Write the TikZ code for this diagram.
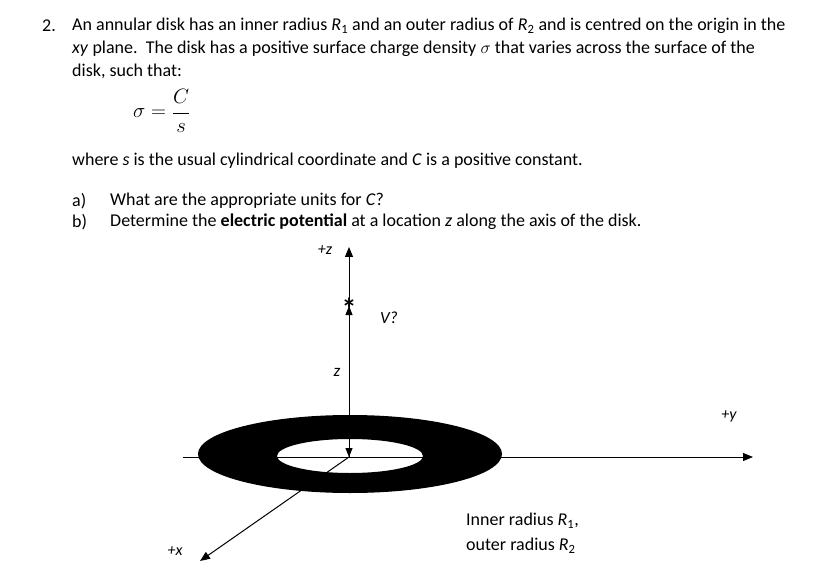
\documentclass[tikz,border=0pt]{standalone}
\usepackage{fontspec}
\setmainfont{Carlito}
\usetikzlibrary{arrows.meta}
\begin{document}
\begin{tikzpicture}[x=1pt,y=-1pt,
  txt/.style={anchor=west,inner sep=0pt,font=\fontsize{18}{22}\selectfont},
  lab/.style={anchor=center,inner sep=0pt,font=\fontsize{16}{16}\selectfont\itshape},
  ax/.style={line width=1pt,-{Triangle[length=10pt,width=8pt]}},
  dim/.style={line width=1pt,{Triangle[length=9pt,width=7pt]}-{Triangle[length=9pt,width=7pt]}}]
\useasboundingbox (0,0) rectangle (840,577);
\node[txt] (n2) at (42,26) {2.};
\node[txt] (l1) at (72,26) {An annular disk has an inner radius \textit{R}\textsubscript{1} and an outer radius of \textit{R}\textsubscript{2} and is centred on the origin in the};
\node[txt] (l2) at (72,49) {\textit{xy} plane.\ \ The disk has a positive surface charge density \(\sigma\) that varies across the surface of the};
\node[txt] (l3) at (72,71) {disk, such that:};
\node[anchor=west,inner sep=0pt] (eq) at (133,111) {\fontsize{20}{24}\selectfont$\displaystyle \sigma=\frac{C}{s}$};
\node[txt] (l4) at (72,161) {where \textit{s} is the usual cylindrical coordinate and \textit{C} is a positive constant.};
\node[txt] (a) at (72,201) {a)};
\node[txt] (qa) at (110,201) {What are the appropriate units for \textit{C}?};
\node[txt] (b) at (72,222) {b)};
\node[txt] (qb) at (110,222) {Determine the \textbf{electric potential} at a location \textit{z} along the axis of the disk.};
% disk
\coordinate (O) at (349,457);
\fill[black,even odd rule] (350,454) ellipse[x radius=152,y radius=39] (350,456) ellipse[x radius=73,y radius=17];
\coordinate (yl) at (183,457);
\coordinate (yr) at (753,457);
\coordinate (xe) at (200,561);
\coordinate (ze) at (349,247);
\coordinate (P) at (349,306);
\draw[ax] (yl) -- (yr);
\draw[ax] (O) -- (xe);
\draw[ax] (O) -- (ze);
\draw[dim] (O) -- (P);
\node[inner sep=0pt,font=\fontsize{30}{30}\selectfont\bfseries] (star) at (349,309) {*};
\node[lab] (zl) at (325,250) {+z};
\node[lab] (yl2) at (729,416) {+y};
\node[lab] (xl) at (175,551) {+x};
\node[lab,font=\fontsize{17}{17}\selectfont\itshape] (V) at (389,318) {V?};
\node[lab,font=\fontsize{17}{17}\selectfont\itshape] (zz) at (337,372) {z};
\node[txt] (r1) at (466,521) {Inner radius \textit{R}\textsubscript{1},};
\node[txt] (r2) at (466,546) {outer radius \textit{R}\textsubscript{2}};
\end{tikzpicture}
\end{document}
